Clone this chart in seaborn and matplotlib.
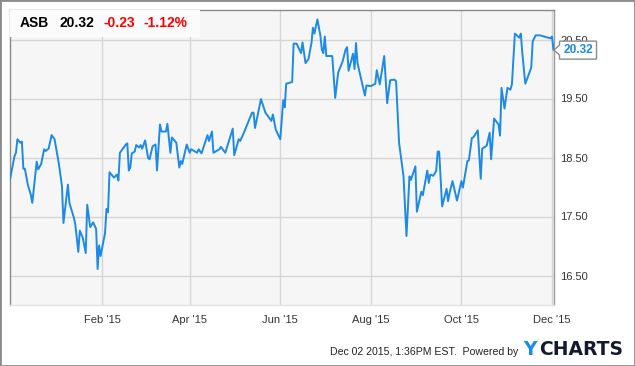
import matplotlib
matplotlib.use("Agg")
import matplotlib.pyplot as plt
import matplotlib.dates as mdates
import seaborn as sns
import pandas as pd
from matplotlib.patches import Polygon, Rectangle

# ---------------- data ----------------
ticker = "ASB"
last_price = "20.32"
change = "-0.23"
change_pct = "-1.12%"
timestamp_text = "Dec 02 2015, 1:36PM EST."

dates = [
    "2014-12-01", "2014-12-04", "2014-12-05", "2014-12-06", "2014-12-08", "2014-12-09",
    "2014-12-10", "2014-12-11", "2014-12-13", "2014-12-15", "2014-12-16", "2014-12-19",
    "2014-12-20", "2014-12-22", "2014-12-24", "2014-12-25", "2014-12-27", "2014-12-29",
    "2014-12-31", "2015-01-03", "2015-01-05", "2015-01-06", "2015-01-09", "2015-01-10",
    "2015-01-13", "2015-01-14", "2015-01-16", "2015-01-17", "2015-01-19", "2015-01-21",
    "2015-01-22", "2015-01-24", "2015-01-26", "2015-01-28", "2015-01-29", "2015-01-30",
    "2015-01-31", "2015-02-03", "2015-02-04", "2015-02-05", "2015-02-06", "2015-02-09",
    "2015-02-11", "2015-02-12", "2015-02-13", "2015-02-17", "2015-02-18", "2015-02-19",
    "2015-02-20", "2015-02-21", "2015-02-23", "2015-02-24", "2015-02-26", "2015-02-27",
    "2015-02-28", "2015-03-02", "2015-03-04", "2015-03-05", "2015-03-07", "2015-03-09",
    "2015-03-10", "2015-03-12", "2015-03-13", "2015-03-16", "2015-03-17", "2015-03-19",
    "2015-03-20", "2015-03-23", "2015-03-25", "2015-03-26", "2015-03-27", "2015-03-30",
    "2015-04-01", "2015-04-02", "2015-04-06", "2015-04-07", "2015-04-09", "2015-04-13",
    "2015-04-14", "2015-04-16", "2015-04-17", "2015-04-21", "2015-04-22", "2015-04-25",
    "2015-04-30", "2015-05-01", "2015-05-04", "2015-05-05", "2015-05-07", "2015-05-13",
    "2015-05-14", "2015-05-15", "2015-05-19", "2015-05-22", "2015-05-26", "2015-05-27",
    "2015-05-29", "2015-06-01", "2015-06-03", "2015-06-04", "2015-06-05", "2015-06-09",
    "2015-06-10", "2015-06-12", "2015-06-15", "2015-06-16", "2015-06-18", "2015-06-20",
    "2015-06-22", "2015-06-23", "2015-06-24", "2015-06-26", "2015-06-28", "2015-06-29",
    "2015-06-30", "2015-07-01", "2015-07-02", "2015-07-06", "2015-07-08", "2015-07-10",
    "2015-07-13", "2015-07-15", "2015-07-16", "2015-07-17", "2015-07-20", "2015-07-21",
    "2015-07-22", "2015-07-23", "2015-07-28", "2015-07-29", "2015-08-01", "2015-08-04",
    "2015-08-05", "2015-08-07", "2015-08-10", "2015-08-12", "2015-08-14", "2015-08-17",
    "2015-08-18", "2015-08-20", "2015-08-23", "2015-08-25", "2015-08-27", "2015-08-28",
    "2015-08-31", "2015-09-01", "2015-09-04", "2015-09-05", "2015-09-08", "2015-09-09",
    "2015-09-10", "2015-09-12", "2015-09-14", "2015-09-15", "2015-09-16", "2015-09-18",
    "2015-09-21", "2015-09-22", "2015-09-23", "2015-09-25", "2015-09-28", "2015-10-01",
    "2015-10-02", "2015-10-05", "2015-10-06", "2015-10-08", "2015-10-09", "2015-10-12",
    "2015-10-14", "2015-10-15", "2015-10-18", "2015-10-20", "2015-10-21", "2015-10-23",
    "2015-10-26", "2015-10-27", "2015-10-28", "2015-10-30", "2015-11-01", "2015-11-03",
    "2015-11-04", "2015-11-06", "2015-11-09", "2015-11-10", "2015-11-11", "2015-11-13",
    "2015-11-17", "2015-11-18", "2015-11-20", "2015-11-23", "2015-11-30", "2015-12-01",
    "2015-12-02",
]
prices = [
    18.13, 18.52, 18.58, 18.81, 18.75, 18.77,
    18.31, 18.31, 18.04, 17.87, 17.73, 18.43,
    18.30, 18.39, 18.64, 18.61, 18.65, 18.88,
    18.81, 18.38, 18.01, 17.39, 18.04, 17.73,
    17.48, 17.36, 16.90, 17.26, 17.14, 16.88,
    17.70, 17.32, 17.40, 17.29, 16.61, 17.01,
    16.83, 17.22, 17.63, 17.57, 18.25, 18.16,
    18.21, 18.11, 18.58, 18.72, 18.74, 18.28,
    18.33, 18.57, 18.60, 18.71, 18.67, 18.71,
    18.65, 18.79, 18.49, 18.47, 18.69, 18.72,
    18.28, 19.06, 18.94, 18.94, 19.07, 18.58,
    18.84, 18.75, 18.33, 18.44, 18.39, 18.72,
    18.58, 18.64, 18.58, 18.64, 18.57, 18.88,
    18.78, 18.94, 18.58, 18.64, 18.68, 18.58,
    18.99, 18.54, 18.81, 18.78, 18.89, 19.26,
    19.26, 19.00, 19.49, 19.26, 19.12, 19.23,
    18.97, 18.81, 19.47, 19.35, 19.75, 19.78,
    20.43, 20.43, 20.27, 20.45, 20.10, 20.17,
    20.44, 20.70, 20.60, 20.84, 20.57, 20.33,
    20.27, 20.55, 20.22, 20.22, 19.51, 19.94,
    20.13, 20.33, 20.37, 19.97, 20.26, 20.00,
    20.44, 20.10, 19.55, 19.72, 19.71, 19.75,
    19.98, 19.74, 20.22, 19.42, 19.81, 19.82,
    19.79, 18.75, 18.18, 17.17, 18.18, 18.12,
    18.35, 17.58, 17.92, 17.86, 18.28, 18.07,
    18.21, 18.19, 18.27, 18.60, 18.60, 17.67,
    17.97, 17.76, 17.90, 18.10, 17.77, 18.10,
    17.99, 18.44, 18.45, 18.83, 18.84, 18.96,
    18.14, 18.65, 18.70, 18.92, 18.47, 19.16,
    19.06, 18.87, 19.68, 19.33, 19.68, 19.65,
    19.74, 20.60, 20.53, 20.60, 20.27, 19.75,
    20.02, 20.47, 20.57, 20.57, 20.52, 20.55,
    20.32,
]

xtick_dates = ["2015-02-01", "2015-04-01", "2015-06-01", "2015-08-01", "2015-10-01", "2015-12-01"]
xtick_labels = ["Feb '15", "Apr '15", "Jun '15", "Aug '15", "Oct '15", "Dec '15"]
ytick_values = [16.5, 17.5, 18.5, 19.5, 20.5]
ytick_labels = ["16.50", "17.50", "18.50", "19.50", "20.50"]

# ---------------- style ----------------
LINE = "#1c8ae6"
W, H = 635, 366

sns.set_style("white")
plt.rcParams["font.family"] = ["Liberation Sans", "DejaVu Sans"]

df = pd.DataFrame({"date": pd.to_datetime(dates), "price": prices})

fig = plt.figure(figsize=(W / 100, H / 100), dpi=100)
fig.patch.set_facecolor("white")

L, R, T, B = 10, 553.5, 10, 305
ax = fig.add_axes([L / W, 1 - B / H, (R - L) / W, (B - T) / H])
ax.set_facecolor("#f6f6f6")

sns.lineplot(data=df, x="date", y="price", ax=ax, color=LINE, linewidth=1.4, zorder=3)

ax.set_xlim(pd.Timestamp("2014-12-01"), pd.Timestamp("2015-12-02"))
ax.set_ylim(16.0, 21.0)
ax.set_xlabel("")
ax.set_ylabel("")
ax.set_xticks(pd.to_datetime(xtick_dates))
ax.set_xticklabels(xtick_labels)
ax.yaxis.tick_right()
ax.set_yticks(ytick_values)
ax.set_yticklabels(ytick_labels)
ax.grid(True, color="#d6d6d6", linewidth=1.0, zorder=0)
ax.set_axisbelow(True)
ax.tick_params(axis="both", length=0, labelsize=8, colors="#333333")
ax.tick_params(axis="x", pad=7)
ax.tick_params(axis="y", pad=5)

for side in ["left", "top"]:
    ax.spines[side].set_color("#8a8a8a")
    ax.spines[side].set_linewidth(1.0)
ax.spines["right"].set_color("#9a9a9a")
ax.spines["right"].set_linewidth(1.0)
ax.spines["bottom"].set_color("#e2e2e2")
ax.spines["bottom"].set_linewidth(1.0)

# header box
fig.add_artist(Rectangle((L / W, 1 - 37 / H), 190 / W, 27 / H, transform=fig.transFigure,
                         facecolor="#fbfbfb", edgecolor="none", zorder=5))
hy = 1 - 23 / H
fig.text(20 / W, hy, ticker, fontsize=10, fontweight="bold", color="black", va="center", zorder=6)
fig.text(59 / W, hy, last_price, fontsize=10, fontweight="bold", color="black", va="center", zorder=6)
fig.text(103 / W, hy, change, fontsize=10, fontweight="bold", color="#ff0000", va="center", zorder=6)
fig.text(144 / W, hy, change_pct, fontsize=10, fontweight="bold", color="#ff0000", va="center", zorder=6)

# last value flag
fig.canvas.draw()
last_val = float(df["price"].iloc[-1])
px, py = ax.transData.transform((mdates.date2num(df["date"].iloc[-1]), last_val))
px = ax.transAxes.transform((1, 0))[0]
flag = [(px + 0.5, py), (px + 6, py + 5), (px + 6, py + 9), (px + 43, py + 9),
        (px + 43, py - 9), (px + 6, py - 9), (px + 6, py - 5)]
fig.add_artist(Polygon(flag, closed=True, transform=None, facecolor="white",
                       edgecolor="#8c8c8c", linewidth=1.0, zorder=6))
fig.text((px + 24.5) / W, py / H, f"{last_val:.2f}", fontsize=8.6,
         fontweight="bold", color=LINE, ha="center", va="center", zorder=7)

# footer
fy = 1 - 352 / H
fig.text(330 / W, fy, timestamp_text + "  Powered by", fontsize=7.6, color="#222222", va="center")
fig.text(537 / W, 1 - 349.5 / H, "Y", fontsize=13.5, fontweight="bold", color="#1a8cf0",
         ha="right", va="center", family="DejaVu Sans")
fig.text(623 / W, 1 - 349.5 / H, "CHARTS", fontsize=13.5, fontweight="bold", color="#141a2e",
         ha="right", va="center", family="DejaVu Sans")

# outer frame
fig.add_artist(Rectangle((0, 0), 1, 1, transform=fig.transFigure, facecolor="none",
                         edgecolor="#8c8c8c", linewidth=2.0, zorder=10))

fig.savefig("out.png", dpi=100)
